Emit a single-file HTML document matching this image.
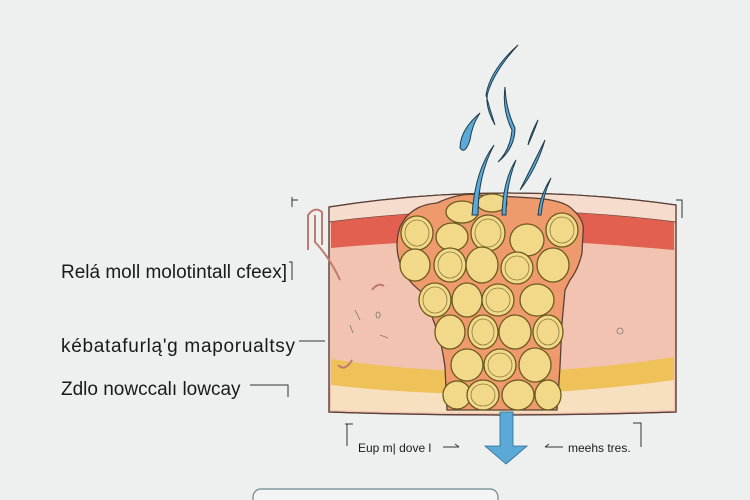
<!DOCTYPE html>
<html><head><meta charset="utf-8"><style>
html,body{margin:0;padding:0;background:#eef0ef;}
svg{display:block}
text{font-family:"Liberation Sans",sans-serif;fill:#1a1a1a}
</style></head><body>
<svg width="750" height="500" viewBox="0 0 750 500">
<rect width="750" height="500" fill="#eef0ef"/>
<path d="M329,207 Q500,180 676,205 L676,412 Q500,418 329,412 Z" fill="#f2c3b0" stroke="#6b4a40" stroke-width="1.2"/>
<path d="M329,207 Q500,180 676,205 L676,222 Q500,200 329,222 Z" fill="#f6dccd" stroke="#6b4a40" stroke-width="1"/>
<path d="M331,222 Q500,200 674,222 L674,250 Q560,240 500,240 Q420,240 331,248 Z" fill="#e2604f"/>
<path d="M331,359 Q500,385 674,357 L674,380 Q500,405 331,385 Z" fill="#efc259"/>
<path d="M331,385 Q500,405 674,380 L674,410 Q500,416 331,410 Z" fill="#f6e0c0"/>
<path d="M329,207 Q500,180 676,205 L676,412 Q500,418 329,412 Z" fill="none" stroke="#5a4038" stroke-width="1.3"/>
<path d="M400,227 Q410,205 437,203 Q460,192 480,195 L533,198 Q565,200 573,210 Q585,220 583,233 L582,253 Q578,270 570,280 L565,290 L562,323 L560,367 L557,410 L447,410 L445,367 Q442,345 437,330 L423,293 Q405,280 400,263 Q394,245 400,227 Z" fill="#ef9a6c" stroke="#5a4038" stroke-width="1.3"/>
<g fill="#f2d98a" stroke="#6b5a1e" stroke-width="1.3">
<ellipse cx="462" cy="212" rx="16" ry="11"/>
<ellipse cx="492" cy="203" rx="15" ry="9"/>
<ellipse cx="417" cy="233" rx="16" ry="17"/>
<ellipse cx="452" cy="237" rx="16" ry="14"/>
<ellipse cx="488" cy="233" rx="17" ry="18"/>
<ellipse cx="527" cy="240" rx="17" ry="16"/>
<ellipse cx="562" cy="230" rx="16" ry="17"/>
<ellipse cx="415" cy="265" rx="15" ry="16"/>
<ellipse cx="450" cy="265" rx="16" ry="17"/>
<ellipse cx="482" cy="265" rx="16" ry="18"/>
<ellipse cx="517" cy="268" rx="16" ry="16"/>
<ellipse cx="553" cy="265" rx="16" ry="17"/>
<ellipse cx="435" cy="300" rx="16" ry="17"/>
<ellipse cx="467" cy="300" rx="15" ry="17"/>
<ellipse cx="498" cy="300" rx="16" ry="16"/>
<ellipse cx="537" cy="300" rx="17" ry="16"/>
<ellipse cx="450" cy="332" rx="15" ry="17"/>
<ellipse cx="483" cy="332" rx="15" ry="17"/>
<ellipse cx="515" cy="332" rx="16" ry="17"/>
<ellipse cx="548" cy="332" rx="15" ry="17"/>
<ellipse cx="467" cy="365" rx="16" ry="16"/>
<ellipse cx="500" cy="365" rx="16" ry="16"/>
<ellipse cx="535" cy="365" rx="16" ry="17"/>
<ellipse cx="457" cy="395" rx="14" ry="14"/>
<ellipse cx="483" cy="395" rx="16" ry="15"/>
<ellipse cx="518" cy="395" rx="16" ry="15"/>
<ellipse cx="548" cy="395" rx="13" ry="15"/>
</g>
<g fill="none" stroke="#8a7a3a" stroke-width="0.8">
<ellipse cx="417" cy="233" rx="12" ry="13"/>
<ellipse cx="488" cy="233" rx="13" ry="14"/>
<ellipse cx="562" cy="230" rx="12" ry="13"/>
<ellipse cx="450" cy="265" rx="12" ry="13"/>
<ellipse cx="517" cy="268" rx="12" ry="12"/>
<ellipse cx="435" cy="300" rx="12" ry="13"/>
<ellipse cx="498" cy="300" rx="12" ry="12"/>
<ellipse cx="483" cy="332" rx="11" ry="13"/>
<ellipse cx="548" cy="332" rx="11" ry="13"/>
<ellipse cx="500" cy="365" rx="12" ry="12"/>
<ellipse cx="483" cy="395" rx="12" ry="11"/>
</g>
<g fill="#5aa9d6" stroke="#1f3a4a" stroke-width="1">
<path d="M518,45 Q490,70 486,95 Q490,110 495,125 Q484,105 488,92 Q495,70 518,45 Z"/>
<path d="M505,87 Q502,110 512,130 Q510,150 498,162 Q515,148 515,128 Q506,110 505,87 Z"/>
<path d="M480,113 Q460,130 460,148 Q465,155 470,140 Q472,125 480,113 Z"/>
<path d="M494,145 Q475,170 472,215 L478,215 Q478,175 494,145 Z"/>
<path d="M516,160 Q503,180 502,215 L506,215 Q506,185 516,160 Z"/>
<path d="M545,140 Q530,170 520,190 Q536,170 545,140 Z"/>
<path d="M551,178 Q540,195 538,215 L541,215 Q543,195 551,178 Z"/>
<path d="M538,120 Q530,135 528,145 Q534,132 538,120 Z"/>
</g>
<path d="M500,412 L513,412 L513,446 L527,446 L506,464 L485,446 L500,446 Z" fill="#5aa9d6" stroke="#2a6a90" stroke-width="0.8"/>
<g fill="none" stroke="#c07a70" stroke-width="2">
<path d="M308,250 L308,215 Q315,206 322,212 L322,245"/>
<path d="M315,215 L315,242 Q330,258 340,280"/>
<path d="M372,290 Q378,282 384,286"/>
<path d="M338,365 Q345,372 352,360"/>
</g>
<g fill="none" stroke="#777" stroke-width="0.8">
<path d="M355,310 l5,10 M350,325 l3,8 M380,335 l8,3 M378,318 a2,3 0 1 1 0.1,0"/>
<circle cx="620" cy="331" r="3"/>
</g>
<g fill="none" stroke="#333" stroke-width="1">
<path d="M292,197 l0,10 M292,200 l6,0"/>
<path d="M676,200 l6,0 l0,18"/>
<path d="M289,262 l3,0 l0,18"/>
<path d="M299,341 l26,0"/>
<path d="M250,385 l38,0 l0,12"/>
<path d="M345,424 l8,0 M347,424 l0,22"/>
<path d="M633,423 l8,0 l0,24"/>
<path d="M443,447 l16,0 M455,444 l4,3"/>
<path d="M545,447 l18,0 M549,444 l-4,3"/>
</g>
<text x="61" y="278" font-size="19">Relá moll molotintall cfeex]</text>
<text x="61" y="352" font-size="19" textLength="234">kébatafurlą'g maporualtsy</text>
<text x="61" y="395" font-size="19">Zdlo nowccalı lowcay</text>
<text x="358" y="452" font-size="12">Eup m| dove l</text>
<text x="568" y="452" font-size="12">meehs tres.</text>
<rect x="253" y="489" width="245" height="30" rx="8" fill="#f3f5f4" stroke="#6a8a88" stroke-width="1.2"/>
</svg>
</body></html>
